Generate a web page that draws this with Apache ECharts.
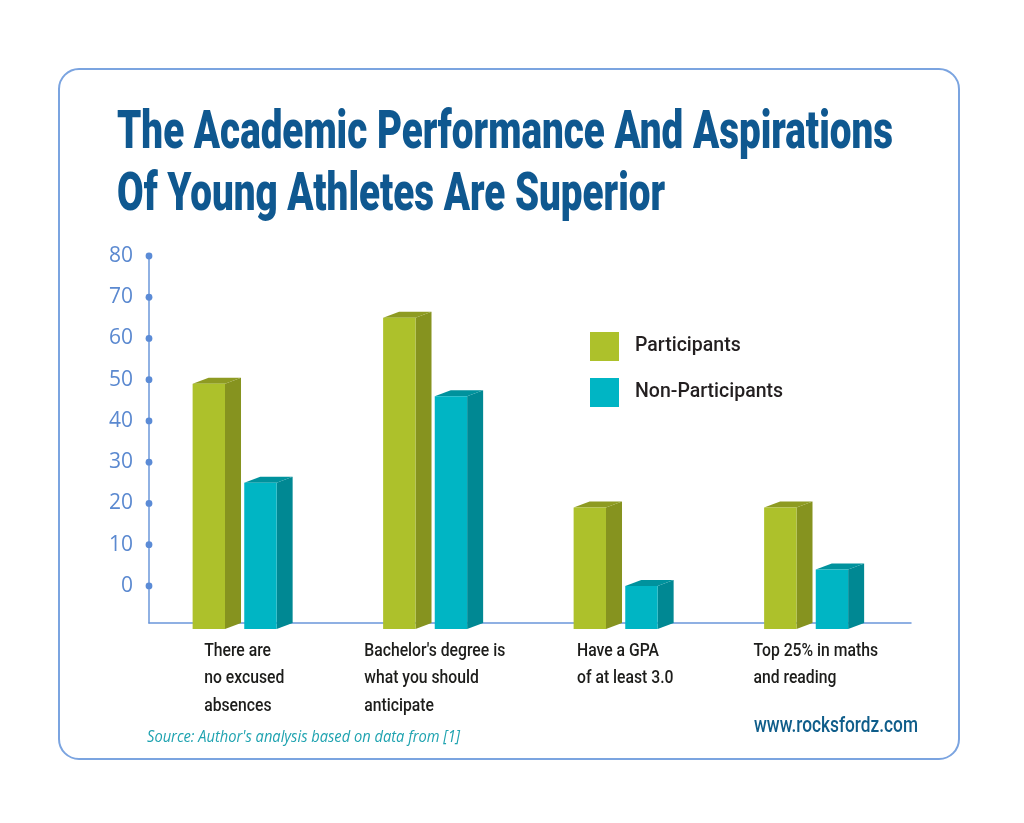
<!DOCTYPE html>
<html>
<head>
<meta charset="utf-8">
<script src="https://cdn.jsdelivr.net/npm/echarts@6/dist/echarts.min.js"></script>
<style>
html,body{margin:0;padding:0;background:#fff;}
#chart{width:1024px;height:823px;}
</style>
</head>
<body>
<div id="chart"></div>
<script>
// ---- data ----
const categories = [
  "There are\nno excused\nabsences",
  "Bachelor's degree is\nwhat you should\nanticipate",
  "Have a GPA\nof at least 3.0",
  "Top 25% in maths\nand reading"
];
const participants = [49, 65, 19, 19];
const nonParticipants = [25, 46, 0, 4];
const yTicks = [0, 10, 20, 30, 40, 50, 60, 70, 80];
const seriesNames = ["Participants", "Non-Participants"];
const titleLines = ["The Academic Performance And Aspirations", "Of Young Athletes Are Superior"];
const sourceText = "Source: Author's analysis based on data from [1]";
const siteText = "www.rocksfordz.com";

// ---- helpers ----
const measureCtx = document.createElement('canvas').getContext('2d');
function textW(t, font) { measureCtx.font = font; return measureCtx.measureText(t).width; }

const TITLE_FONT = '900 54px Roboto';
const titleScale = 776 / textW(titleLines[0], TITLE_FONT);
const SRC_FONT = 'italic 16px "Open Sans"';
const srcScale = 313 / textW(sourceText, SRC_FONT);
const SITE_FONT = '500 22px Roboto';
const siteScale = 164 / textW(siteText, SITE_FONT);
const CAT_FONT = '500 19px Roboto';
const catScale = 141 / textW("Bachelor's degree is", CAT_FONT);

const COLORS = {
  p: { front: '#adc12b', side: '#86931f', top: '#8e9b22' },
  n: { front: '#00b5c4', side: '#008893', top: '#00929d' }
};

function barRenderer(col, offsetFrac) {
  return function (params, api) {
    const i = api.value(0), v = api.value(1);
    const band = api.size([1, 0])[0];
    const c = api.coord([i, v]);
    const cs = params.coordSys;
    const base = cs.y + cs.height + 6;
    const w = band * 0.17, dx = band * 0.084, dy = 6;
    const x0 = c[0] + band * offsetFrac, x1 = x0 + w, yt = c[1];
    return {
      type: 'group',
      children: [
        { type: 'polygon', shape: { points: [[x1, yt], [x1 + dx, yt - dy], [x1 + dx, base - dy], [x1, base]] }, style: { fill: col.side } },
        { type: 'polygon', shape: { points: [[x0, yt], [x0 + dx, yt - dy], [x1 + dx, yt - dy], [x1, yt]] }, style: { fill: col.top } },
        { type: 'rect', shape: { x: x0, y: yt, width: w, height: base - yt }, style: { fill: col.front } }
      ]
    };
  };
}

const chart = echarts.init(document.getElementById('chart'), null, { renderer: 'canvas' });

const option = {
  backgroundColor: '#ffffff',
  animation: false,
  grid: { left: 149, right: 113, top: 256, bottom: 200, containLabel: false },
  legend: {
    data: seriesNames,
    orient: 'vertical',
    left: 590, top: 332, padding: 0,
    itemWidth: 29, itemHeight: 29, itemGap: 17,
    icon: 'rect',
    textStyle: { fontFamily: 'Roboto', fontSize: 19.5, fontWeight: 500, color: '#231f20', padding: [0, 0, 0, 11] }
  },
  xAxis: {
    type: 'category',
    data: categories,
    axisLine: { show: true, onZero: false, lineStyle: { color: '#6b97da', width: 1.5 } },
    axisTick: { show: false },
    axisLabel: { show: false }
  },
  yAxis: {
    type: 'value',
    min: -9, max: 80,
    axisLine: { show: true, lineStyle: { color: '#6b97da', width: 1.5 } },
    axisTick: { show: false },
    splitLine: { show: false },
    axisLabel: {
      customValues: yTicks,
      margin: 16,
      fontFamily: 'Open Sans', fontSize: 21, color: '#5b89d0'
    }
  },
  graphic: [
    { type: 'rect', shape: { x: 59, y: 69, width: 900, height: 690, r: 20 }, style: { fill: 'none', stroke: '#7ba4e0', lineWidth: 2 } },
    { type: 'text', x: 117, y: 134.5, scaleX: titleScale, style: { text: titleLines[0], font: TITLE_FONT, fill: '#0f5890', align: 'left', verticalAlign: 'middle', textAlign: 'left', textVerticalAlign: 'middle' } },
    { type: 'text', x: 117, y: 196, scaleX: titleScale, style: { text: titleLines[1], font: TITLE_FONT, fill: '#0f5890', align: 'left', verticalAlign: 'middle', textAlign: 'left', textVerticalAlign: 'middle' } },
    { type: 'text', x: 147, y: 737, scaleX: srcScale, style: { text: sourceText, font: SRC_FONT, fill: '#1fa3b0', align: 'left', verticalAlign: 'middle', textAlign: 'left', textVerticalAlign: 'middle' } },
    { type: 'text', x: 754, y: 726, scaleX: siteScale, style: { text: siteText, font: SITE_FONT, fill: '#0f5d8a', align: 'left', verticalAlign: 'middle', textAlign: 'left', textVerticalAlign: 'middle' } }
  ],
  series: [
    {
      name: 'ticks', type: 'custom', silent: true, z: 3,
      data: yTicks.map(v => [0, v]),
      renderItem: function (params, api) {
        const y = api.coord([0, api.value(1)])[1];
        return { type: 'circle', shape: { cx: params.coordSys.x, cy: y, r: 3.4 }, style: { fill: '#5b8bd6' } };
      }
    },
    {
      name: 'categoryLabels', type: 'custom', silent: true, z: 3,
      data: categories.map((c, i) => [i, 0]),
      renderItem: function (params, api) {
        const i = api.value(0);
        const txt = categories[i];
        const cx = api.coord([i, 0])[0];
        const cs = params.coordSys;
        const maxW = Math.max.apply(null, txt.split('\n').map(l => textW(l, CAT_FONT))) * catScale;
        return {
          type: 'text', x: cx - maxW / 2, y: cs.y + cs.height + 14, scaleX: catScale,
          style: { text: txt, font: CAT_FONT, fill: '#1d1d1b', lineHeight: 27.5, align: 'left', verticalAlign: 'top', textAlign: 'left', textVerticalAlign: 'top' }
        };
      }
    },
    {
      name: seriesNames[0], type: 'custom', z: 2,
      itemStyle: { color: COLORS.p.front },
      data: participants.map((v, i) => [i, v]),
      renderItem: barRenderer(COLORS.p, -0.271)
    },
    {
      name: seriesNames[1], type: 'custom', z: 2,
      itemStyle: { color: COLORS.n.front },
      data: nonParticipants.map((v, i) => [i, v]),
      renderItem: barRenderer(COLORS.n, 0.0)
    }
  ]
};
chart.setOption(option);
</script>
</body>
</html>
